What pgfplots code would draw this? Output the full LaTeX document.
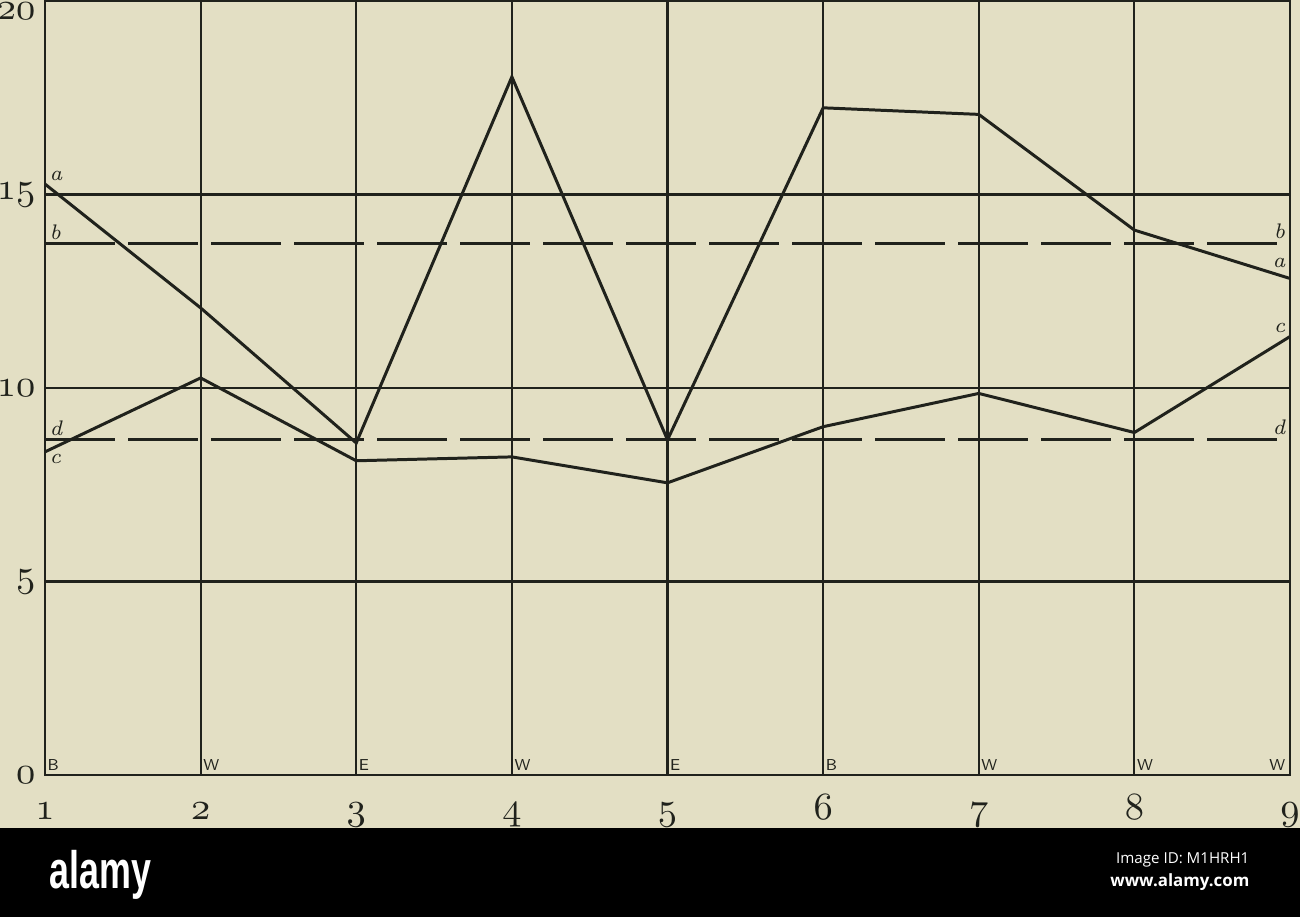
\documentclass[border=0pt]{standalone}
\usepackage{fontspec}
\usepackage{pgfplots}
\usepackage{pgfplotstable}
\pgfplotsset{compat=1.18}
\newfontfamily\logofont{Liberation Sans}
\newfontfamily\idfont{Open Sans}
\definecolor{paper}{RGB}{227,223,196}
\definecolor{ink}{RGB}{32,34,28}
\pgfplotstableread{
x a c
1 15.27 8.35
2 12.07 10.26
3 8.58 8.12
4 18.04 8.22
5 8.66 7.55
6 17.24 9.00
7 17.07 9.86
8 14.08 8.85
9 12.83 11.33
}\data
\newcommand\lettfont{\fontsize{6}{7}\selectfont\itshape}
\newcommand\capfont{\fontsize{4.5}{5}\selectfont\sffamily}
\newcommand\os[1]{$\mathnormal{#1}$}
\begin{document}
\begin{tikzpicture}
\useasboundingbox (0,0) rectangle (130mm,91.7mm);
\clip (0,0) rectangle (130mm,91.7mm);
\fill[paper] (0,0) rectangle (130mm,91.7mm);
\begin{axis}[
  at={(4.5mm,14.2mm)}, anchor=south west,
  scale only axis, width=124.5mm, height=77.4mm,
  xmin=1, xmax=9, ymin=0, ymax=20,
  xtick={1,2,3,4,5,6,7,8,9},
  xticklabels={\os{1},\os{2},\os{3},\os{4},\os{5},\os{6},\os{7},\os{8},\os{9}},
  ytick={0,5,10,15,20},
  yticklabels={\os{0},\os{5},\os{10},\os{15},\raisebox{-1.85mm}[0pt][0pt]{\os{20}}},
  major tick length=0pt,
  grid=major, grid style={ink, line width=0.6pt},
  axis line style={ink, line width=0.65pt},
  tick label style={font=\fontsize{10.5}{12.5}\selectfont, text=ink},
  xticklabel style={anchor=base, yshift=-4.4mm, inner sep=0pt},
  yticklabel style={anchor=east, xshift=-0.9mm, inner sep=0pt},
  clip=false,
]
\addplot[ink, line width=0.85pt] table[x=x,y=a]{\data};
\addplot[ink, line width=0.85pt] table[x=x,y=c]{\data};
\addplot[ink, line width=0.75pt, dash pattern=on 7mm off 1.3mm] coordinates {(1,13.74) (9,13.74)};
\addplot[ink, line width=0.75pt, dash pattern=on 7mm off 1.3mm] coordinates {(1,8.67) (9,8.67)};
% series letters
\node[anchor=south west, inner sep=0pt, font=\lettfont, text=ink, xshift=0.4mm, yshift=0.3mm] at (axis cs:1,15.27) {a};
\node[anchor=south west, inner sep=0pt, font=\lettfont, text=ink, xshift=0.4mm, yshift=0.3mm] at (axis cs:1,13.74) {b};
\node[anchor=south west, inner sep=0pt, font=\lettfont, text=ink, xshift=0.4mm, yshift=0.3mm] at (axis cs:1,8.67) {d};
\node[anchor=north west, inner sep=0pt, font=\lettfont, text=ink, xshift=0.4mm, yshift=-0.2mm] at (axis cs:1,8.35) {c};
\node[anchor=south east, inner sep=0pt, font=\lettfont, text=ink, xshift=-0.4mm, yshift=0.4mm] at (axis cs:9,13.74) {b};
\node[anchor=south east, inner sep=0pt, font=\lettfont, text=ink, xshift=-0.4mm, yshift=1.0mm] at (axis cs:9,12.83) {a};
\node[anchor=south east, inner sep=0pt, font=\lettfont, text=ink, xshift=-0.4mm, yshift=0.3mm] at (axis cs:9,11.33) {c};
\node[anchor=south east, inner sep=0pt, font=\lettfont, text=ink, xshift=-0.4mm, yshift=0.4mm] at (axis cs:9,8.67) {d};
% bottom letters
\node[anchor=south west, inner sep=0pt, font=\capfont, text=ink, xshift=0.2mm, yshift=0.4mm] at (axis cs:1,0) {B};
\node[anchor=south west, inner sep=0pt, font=\capfont, text=ink, xshift=0.2mm, yshift=0.4mm] at (axis cs:2,0) {W};
\node[anchor=south west, inner sep=0pt, font=\capfont, text=ink, xshift=0.2mm, yshift=0.4mm] at (axis cs:3,0) {E};
\node[anchor=south west, inner sep=0pt, font=\capfont, text=ink, xshift=0.2mm, yshift=0.4mm] at (axis cs:4,0) {W};
\node[anchor=south west, inner sep=0pt, font=\capfont, text=ink, xshift=0.2mm, yshift=0.4mm] at (axis cs:5,0) {E};
\node[anchor=south west, inner sep=0pt, font=\capfont, text=ink, xshift=0.2mm, yshift=0.4mm] at (axis cs:6,0) {B};
\node[anchor=south west, inner sep=0pt, font=\capfont, text=ink, xshift=0.2mm, yshift=0.4mm] at (axis cs:7,0) {W};
\node[anchor=south west, inner sep=0pt, font=\capfont, text=ink, xshift=0.2mm, yshift=0.4mm] at (axis cs:8,0) {W};
\node[anchor=south east, inner sep=0pt, font=\capfont, text=ink, xshift=-0.4mm, yshift=0.4mm] at (axis cs:9,0) {W};
\end{axis}
\fill[black] (0,0) rectangle (130mm,8.9mm);
\node[anchor=south west, inner sep=0pt, text=white] at (4.9mm,1.7mm) {\scalebox{0.68}[1]{\logofont\bfseries\fontsize{15}{16}\selectfont alamy}};
\node[anchor=base east, inner sep=0pt, text=white] at (125mm,5.35mm) {\idfont\fontsize{4.3}{5}\selectfont Image ID: M1HRH1};
\node[anchor=base east, inner sep=0pt, text=white] at (125mm,3.05mm) {\idfont\bfseries\fontsize{4.8}{5}\selectfont www.alamy.com};
\end{tikzpicture}
\end{document}
